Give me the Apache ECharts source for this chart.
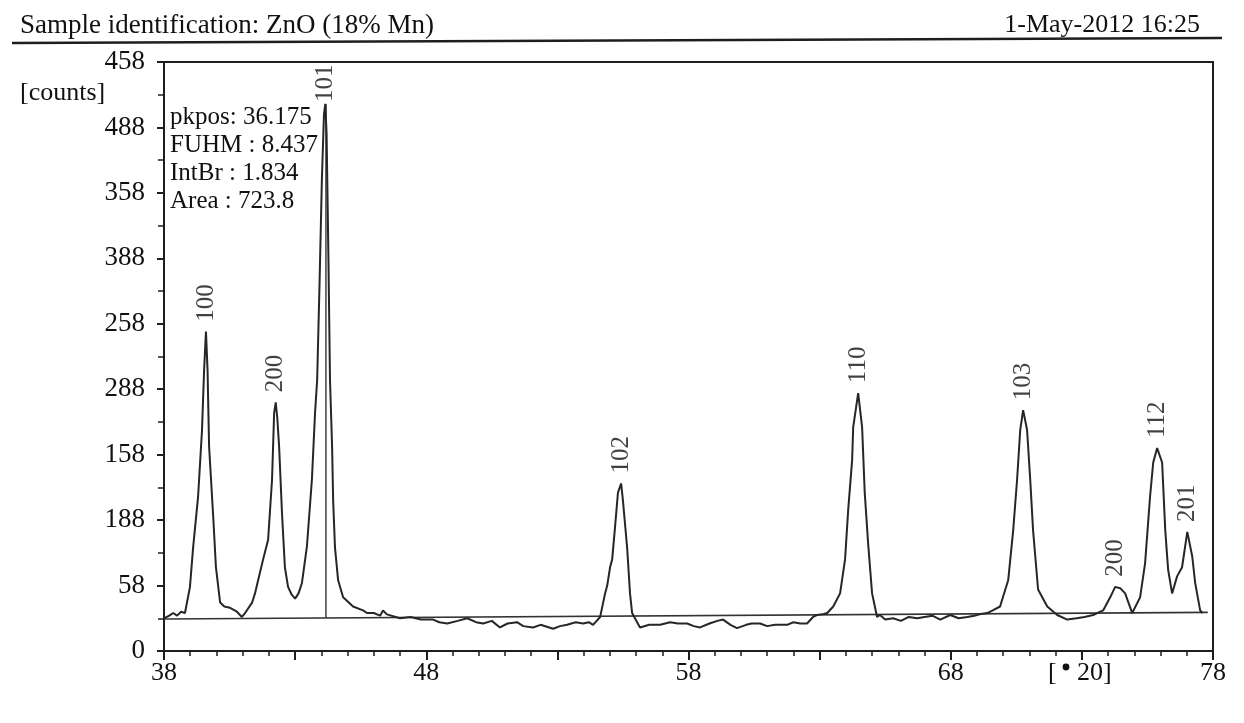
<!DOCTYPE html>
<html>
<head>
<meta charset="utf-8">
<script src="https://cdn.jsdelivr.net/npm/echarts@6/dist/echarts.min.js"></script>
<style>
html,body{margin:0;padding:0;background:#fff;}
#chart{width:1244px;height:723px;}
</style>
</head>
<body>
<div id="chart"></div>
<script>
// 2-theta (degrees) of the measured profile
const twoTheta = [
30.00,30.20,30.35,30.50,30.65,30.80,30.99,31.11,31.30,31.45,31.53,31.60,31.66,31.72,31.87,31.98,32.14,32.30,32.52,32.78,32.97,
33.09,33.36,33.47,33.60,33.78,33.97,34.12,34.20,34.26,34.32,34.39,34.50,34.61,34.73,34.87,35.00,35.13,35.26,35.45,35.64,35.76,35.84,35.93,36.02,36.10,36.15,36.20,36.27,36.33,36.41,36.45,36.52,36.64,36.83,37.21,37.59,37.74,
38.00,38.24,38.35,38.50,39.00,39.40,39.80,40.26,40.50,40.80,41.20,41.56,41.90,42.17,42.50,42.81,43.10,43.46,43.70,44.07,44.36,44.84,45.10,45.37,45.70,45.98,46.20,46.36,46.63,
46.82,46.90,47.01,47.09,47.20,47.31,47.43,47.50,47.66,47.77,47.85,48.15,48.50,48.92,49.30,49.60,49.95,50.20,50.44,50.80,51.10,51.32,51.60,51.85,52.20,52.40,52.73,53.00,53.30,53.76,54.00,54.26,54.52,54.75,54.90,55.10,55.29,55.52,55.78,55.97,56.09,56.24,56.28,56.47,56.62,56.72,56.85,57.00,57.19,
57.30,57.50,57.80,58.10,58.40,58.72,59.00,59.30,59.60,59.98,60.30,60.63,60.90,61.10,61.39,61.60,61.88,62.19,62.38,62.53,62.65,62.76,62.91,63.03,63.14,63.33,63.68,64.06,64.44,64.80,65.10,65.43,65.81,66.08,66.27,66.46,66.65,66.92,
67.22,67.41,67.60,67.72,67.87,68.06,68.18,68.29,68.44,68.63,68.82,69.02,69.21,69.32,69.51,69.60
];
// measured intensity [counts]
const counts = [
25,27,29,27,30,29,49,79,118,169,215,244,215,156,105,64,37,34,33,30,26,
29,37,44,55,70,85,131,182,190,178,156,105,64,49,43,40,44,52,80,131,182,207,280,360,410,418,395,300,207,156,115,79,54,41,34,31,29,
29,27,31,28,25,26,24,24,22,21,23,25,22,21,23,18,21,22,19,18,20,17,19,20,22,21,22,20,26,
44,50,64,70,95,121,128,115,79,44,29,18,20,20,22,21,21,19,18,21,23,24,20,17.5,20,21,21,19,20,20,22,21,21,26,27.5,28,29,34,44,70,108,146,171,197,171,121,82,44,26,
27.5,24,25,23,26,25,26,27,24,27.5,25,26,27,28,29,31,34,54,92,131,169,184,169,131,92,47,34,27.5,24,25,26,27.5,31,41,49,48,44,29,
41,67,118,144,155,144,92,62,44,57,64,91,72,52,31,29
];
// background line end points
const bgX = [30.0, 69.8];
const bgY = [24.5, 29.5];
// peak marker
const pkpos = 36.175;
const pkTop = 418;
// peak labels (Miller indices)
const peakNames = ['100','200','101','102','110','103','200','112','201'];
const peakX = [31.60,34.26,36.15,47.43,56.47,62.76,66.27,67.87,69.02];
const peakY = [244,190,418,128,197,184,49,155,91];
// axis tick labels as printed
const xTickValues = [30,40,50,60,70];
const xTickLabels = ['38','48','58','68','78'];
const yTickLabels = ['0','58','188','158','288','258','388','358','488','458'];
const annotationLines = ['pkpos: 36.175','FUHM : 8.437','IntBr : 1.834','Area : 723.8'];
const titleText = 'Sample identification: ZnO (18% Mn)';
const dateText = '1-May-2012 16:25';

const FONT = 'Liberation Serif, Times New Roman, serif';
const chart = echarts.init(document.getElementById('chart'), null, {renderer:'canvas'});

const profile = twoTheta.map((x,i)=>[x,counts[i]]);
const bg = bgX.map((x,i)=>[x,bgY[i]]);
const bgAt = x => bgY[0] + (x-bgX[0])*(bgY[1]-bgY[0])/(bgX[1]-bgX[0]);
const peaks = peakX.map((x,i)=>{
  const item = {value:[x,peakY[i]], name:peakNames[i]};
  if (peakY[i] > 400) item.label = {distance:2};
  return item;
});

chart.setOption({
  animation:false,
  backgroundColor:'#ffffff',
  grid:{left:164,right:31,top:62,bottom:72,show:true,borderColor:'#1e1e1e',borderWidth:2,backgroundColor:'transparent'},
  xAxis:{
    type:'value',min:30,max:70,interval:5,
    axisLine:{show:true,onZero:false,lineStyle:{color:'#1e1e1e',width:2}},
    axisTick:{show:true,inside:false,length:9,lineStyle:{color:'#1e1e1e',width:2}},
    minorTick:{show:true,splitNumber:5,length:5,lineStyle:{color:'#1e1e1e',width:1.5}},
    splitLine:{show:false},
    axisLabel:{
      margin:9,color:'#111',fontFamily:FONT,fontSize:26,
      formatter:v=>{const k=xTickValues.indexOf(v);return k>=0?xTickLabels[k]:'';}
    }
  },
  yAxis:{
    type:'value',min:0,max:450,interval:50,
    axisLine:{show:true,lineStyle:{color:'#1e1e1e',width:2}},
    axisTick:{show:true,inside:false,length:7,lineStyle:{color:'#1e1e1e',width:2}},
    minorTick:{show:true,splitNumber:2,length:6,lineStyle:{color:'#1e1e1e',width:1.5}},
    splitLine:{show:false},
    axisLabel:{
      margin:19,color:'#111',fontFamily:FONT,fontSize:27,
      formatter:v=>yTickLabels[Math.round(v/50)]
    }
  },
  series:[
    {type:'line',data:bg,symbol:'none',lineStyle:{color:'#333',width:1.6},z:2},
    {type:'line',data:[[pkpos,bgAt(pkpos)],[pkpos,pkTop]],symbol:'none',lineStyle:{color:'#333',width:1.4},z:2},
    {type:'line',data:profile,symbol:'none',smooth:false,lineStyle:{color:'#262626',width:2},z:3},
    {type:'scatter',data:peaks,symbolSize:0,z:4,
      label:{show:true,formatter:p=>p.name,position:'top',distance:10,rotate:90,align:'left',verticalAlign:'middle',
        fontFamily:FONT,fontSize:25,color:'#111'}}
  ],
  graphic:[
    {type:'text',left:20,top:12,style:{text:titleText,font:'27px '+FONT,fill:'#111'}},
    {type:'text',right:44,top:12,style:{text:dateText,font:'26px '+FONT,fill:'#111'}},
    {type:'line',shape:{x1:12,y1:43,x2:1222,y2:38},style:{stroke:'#1e1e1e',lineWidth:2.5}},
    {type:'text',left:20,top:80,style:{text:'[counts]',font:'26px '+FONT,fill:'#111'}},
    {type:'text',left:170,top:103,style:{text:annotationLines.join('\n'),font:'25px '+FONT,fill:'#111',lineHeight:28}},
    {type:'text',left:1048,top:660,style:{text:'[',font:'26px '+FONT,fill:'#111'}},
    {type:'circle',shape:{cx:1066,cy:667,r:3.4},style:{fill:'#111'}},
    {type:'text',left:1077,top:660,style:{text:'20]',font:'26px '+FONT,fill:'#111'}}
  ]
});
</script>
</body>
</html>
